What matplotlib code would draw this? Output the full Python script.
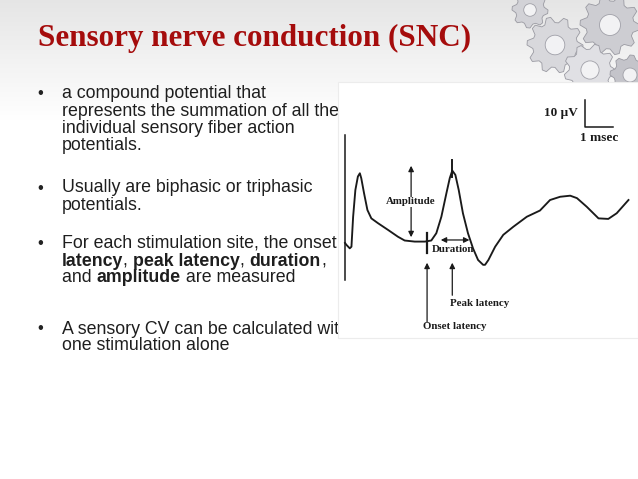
import matplotlib.pyplot as plt
import matplotlib.patches as mpatches
import numpy as np

# slide text
title = "Sensory nerve conduction (SNC)"
bullets = [
    [[("a compound potential that", False)],
     [("represents the summation of all the", False)],
     [("individual sensory fiber action", False)],
     [("potentials.", False)]],
    [[("Usually are biphasic or triphasic", False)],
     [("potentials.", False)]],
    [[("For each stimulation site, the onset", False)],
     [("latency", True), (", ", False), ("peak latency", True), (", ", False),
      ("duration", True), (",", False)],
     [("and ", False), ("amplitude", True), (" are measured", False)]],
    [[("A sensory CV can be calculated with", False)],
     [("one stimulation alone", False)]],
]

# SNAP waveform (time in msec, voltage in uV)
t_ms = [0.0, 0.05, 0.17, 0.23, 0.29, 0.37, 0.46, 0.53, 0.58, 0.68, 0.80, 0.94,
        1.18, 1.54, 1.89, 2.13, 2.49, 2.85, 3.08, 3.26, 3.44, 3.62, 3.74, 3.83,
        3.94, 4.06, 4.21, 4.39, 4.57, 4.75, 4.93, 5.0, 5.12, 5.36, 5.65, 6.01,
        6.49, 6.96, 7.32, 7.68, 8.04, 8.28, 8.63, 9.05, 9.40, 9.70, 10.12]
v_uv = [0.0, -0.7, -2.0, -1.4, 9.7, 19.6, 24.6, 25.8, 24.0, 18.4, 12.2, 9.1,
        7.3, 4.8, 2.3, 0.9, 0.5, 0.5, 0.9, 3.6, 9.7, 18.4, 24.0, 26.8,
        25.2, 19.6, 11.0, 3.6, -2.0, -6.3, -8.1, -8.1, -6.3, -1.4, 3.0, 6.0,
        9.7, 12.0, 15.9, 17.1, 17.5, 16.6, 13.4, 9.1, 8.9, 11.0, 15.9]
onset_ms = 2.93
peak_ms = 3.83
peak_uv = 26.8

fig = plt.figure(figsize=(6.38, 4.79), dpi=100)
ax = fig.add_axes([0, 0, 1, 1])
ax.set_xlim(0, 638)
ax.set_ylim(479, 0)
ax.axis("off")

# background gradient
rows = np.linspace(0, 1, 479)
shade = np.clip(0.90 + 0.10 * rows / 0.25, 0, 1)
bg = np.repeat(shade[:, None], 638, axis=1)
ax.imshow(np.dstack([bg, bg, bg]), extent=(0, 638, 479, 0), aspect="auto", zorder=0)


def gear(cx, cy, r, teeth, fc, zo):
    ang = np.linspace(0, 2 * np.pi, teeth * 4, endpoint=False)
    rad = np.tile([r, r, r * 0.8, r * 0.8], teeth)
    pts = np.column_stack([cx + rad * np.cos(ang), cy + rad * np.sin(ang)])
    ax.add_patch(mpatches.Polygon(pts, closed=True, fc=fc, ec="#9a9aa2", lw=0.6, zorder=zo))
    ax.add_patch(mpatches.Circle((cx, cy), r * 0.35, fc="#f2f2f4", ec="#a0a0a8", lw=0.6, zorder=zo))


gear(555, 45, 28, 10, "#d8d8dc", 1)
gear(610, 25, 30, 10, "#cdcdd2", 1)
gear(590, 70, 26, 9, "#e0e0e4", 1)
gear(530, 10, 18, 8, "#d2d2d7", 1)
gear(630, 75, 20, 8, "#c4c4ca", 1)

ax.text(38, 38, title, fontsize=22.4, fontweight="bold", color="#a50c0c",
        family="Liberation Serif", va="center", ha="left")

line_y = [[93, 111, 128, 145], [188, 205], [243, 261, 278], [329, 346]]
fig.canvas.draw()
renderer = fig.canvas.get_renderer()
inv = ax.transData.inverted()
for lines, ys in zip(bullets, line_y):
    ax.text(37, ys[0], "\u2022", fontsize=12, color="#222222", family="Liberation Sans",
            va="center", ha="left")
    for segs, y in zip(lines, ys):
        x = 62
        for s, b in segs:
            t = ax.text(x, y, s, fontsize=12.8, color="#1e1e1e", family="Liberation Sans",
                        fontweight="bold" if b else "normal", va="center", ha="left", zorder=2)
            bb = t.get_window_extent(renderer)
            x = inv.transform((bb.x1, bb.y0))[0]

# picture box that hides the end of the text lines
ax.add_patch(mpatches.Rectangle((338, 82), 300, 256, fc="white", ec="#ececec", lw=0.8, zorder=5))

# waveform axes over the box
box = fig.add_axes([338 / 638, (479 - 338) / 479, 300 / 638, 256 / 479], zorder=6)
box.patch.set_alpha(0)
box.axis("off")
box.set_xlim(-0.25, 10.46)
box.set_ylim(-35.2, 59.6)

box.plot(t_ms, v_uv, color="#1a1a1a", lw=1.35, solid_joinstyle="round")
box.plot([0, 0], [40, -13.7], color="#1a1a1a", lw=1.1)

lab = dict(family="Liberation Serif", fontweight="bold", fontsize=7.8, color="#1a1a1a")
aprops = dict(arrowstyle="-|>", color="#1a1a1a", lw=0.9, mutation_scale=8)

# amplitude
box.annotate("", xy=(2.36, 29.6), xytext=(2.36, 15.2), arrowprops=aprops)
box.annotate("", xy=(2.36, 1.1), xytext=(2.36, 15.2), arrowprops=aprops)
box.text(2.36, 15.2, "Amplitude", ha="center", va="center",
         bbox=dict(fc="white", ec="none", pad=0.5), **lab)

# onset / peak markers
box.plot([onset_ms, onset_ms], [3.7, -3.7], color="#1a1a1a", lw=1.6)
box.plot([peak_ms, peak_ms], [peak_uv + 3.9, peak_uv - 2.4], color="#1a1a1a", lw=1.4)

# duration
box.annotate("", xy=(3.32, 1.1), xytext=(4.54, 1.1),
             arrowprops=dict(arrowstyle="<|-|>", color="#1a1a1a", lw=0.9, mutation_scale=8))
box.text(3.84, -2.4, "Duration", ha="center", va="center", **lab)

# latencies
box.annotate("", xy=(onset_ms, -6.3), xytext=(onset_ms, -30.4), arrowprops=aprops)
box.text(2.79, -31.0, "Onset latency", ha="left", va="center", **lab)
box.annotate("", xy=(peak_ms, -6.3), xytext=(peak_ms, -20.4), arrowprops=aprops)
box.text(3.75, -22.6, "Peak latency", ha="left", va="center", **lab)

# scale bar
box.plot([8.57, 8.57, 9.57], [53, 43, 43], color="#1a1a1a", lw=1.1)
box.text(8.33, 48, "10 \u00b5V", ha="right", va="center",
         **{**lab, "fontsize": 9.5})
box.text(9.07, 39.0, "1 msec", ha="center", va="center", **{**lab, "fontsize": 9.5})

fig.savefig("out.png", dpi=100)
